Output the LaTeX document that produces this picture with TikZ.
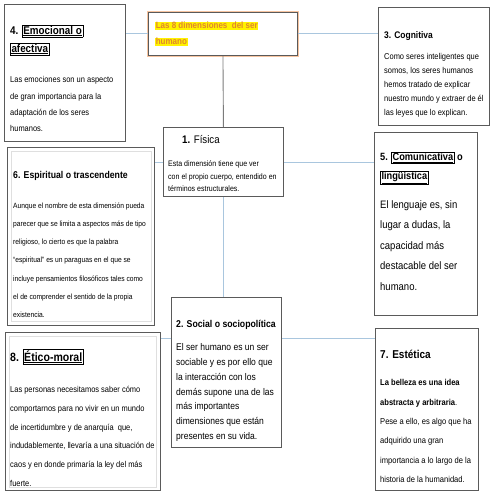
\documentclass[tikz,border=0pt]{standalone}
\usepackage{fontspec}
\setmainfont{Liberation Sans}[FakeStretch=0.88]
\usetikzlibrary{calc}
\definecolor{linkblue}{HTML}{A9C6DE}
\definecolor{framegray}{HTML}{5A5A5A}
\definecolor{titleorange}{HTML}{E0862F}
\definecolor{glow}{HTML}{F6C4A0}
\newcommand{\hl}[1]{{\setlength{\fboxsep}{0.6pt}\setlength{\fboxrule}{0.7pt}\fbox{\underline{#1}}}}
\newcommand{\hly}[1]{{\setlength{\fboxsep}{0.6pt}\colorbox{yellow}{#1}}}
\newcommand{\fs}[2]{\fontsize{#1}{#2}\selectfont}

\tikzset{
  card/.style={draw=framegray, line width=0.9pt, fill=white, anchor=north west, inner sep=0pt},
  txt/.style={anchor=north west, inner sep=0pt, align=left},
  link/.style={draw=linkblue, line width=0.9pt},
}

\begin{document}
\begin{tikzpicture}[x=1pt,y=-1pt]
\useasboundingbox[fill=white] (0,0) rectangle (495,495);
%boxes
\node[card, minimum width=121pt, minimum height=137pt] (emo) at (4,4) {};
\node[card, minimum width=149pt, minimum height=43pt, preaction={draw=glow, line width=3pt}] (title) at (148,12) {};
\node[card, minimum width=111pt, minimum height=118pt] (cog) at (378,7) {};
\node[card, minimum width=120pt, minimum height=69pt] (fis) at (163,127) {};
\node[card, minimum width=147pt, minimum height=178pt] (esp) at (7,147) {};
\node[card, minimum width=103pt, minimum height=183pt] (com) at (374,132) {};
\node[card, minimum width=110pt, minimum height=150pt] (soc) at (171,297) {};
\node[card, minimum width=155pt, minimum height=158pt] (eti) at (5,332) {};
\node[card, minimum width=103pt, minimum height=162pt] (est) at (375,328) {};
%inner frames
\draw[gray!25] (11,151) rectangle (151,321);
\draw[gray!25] (9,336) rectangle (156,487);
%connectors
\draw[link] (title.west) -- (title.west -| emo.east);
\draw[link] (title.east) -- (title.east -| cog.west);
\draw[framegray!80, line width=0.9pt] (title.south) -- (fis.north);
\draw[link] (fis.east) -- (fis.east -| com.west);
\draw[link] (fis.west) -- (fis.west -| esp.east);
\draw[link] (fis.south) -- (fis.south |- soc.north);
\draw[link] ([yshift=34pt]soc.east) -- ([yshift=34pt]soc.east -| est.west);
\draw[link] ([yshift=34pt]soc.west) -- ([yshift=34pt]soc.west -| eti.east);
%texts
\node[txt, font=\fs{9.1}{16}\bfseries, text=titleorange] (titleText) at (155,21.5)
  {\hly{Las 8 dimensiones\ \ del ser}\\\hly{humano}};
\node[txt, font=\fs{11.2}{18}\bfseries] (emoHead) at (10,24.5) {4. \hl{Emocional o}\\\hl{afectiva}};
\node[txt, font=\fs{8.5}{16.2}] (emoText) at (10,76.5)
  {Las emociones son un aspecto\\de gran importancia para la\\adaptación de los seres\\humanos.};
\node[txt, font=\fs{9.6}{14}\bfseries] (cogHead) at (384,31) {3. Cognitiva};
\node[txt, font=\fs{8.5}{14}] (cogText) at (384,53.3)
  {Como seres inteligentes que\\somos, los seres humanos\\hemos tratado de explicar\\nuestro mundo y extraer de él\\las leyes que lo explican.};
\node[txt, font=\fs{11}{14}] (fisHead) at (182,135) {\textbf{1.} Física};
\node[txt, font=\fs{8}{12.5}] (fisText) at (168,160.5)
  {Esta dimensión tiene que ver\\con el propio cuerpo, entendido en\\términos estructurales.};
\node[txt, font=\fs{9.9}{14}\bfseries] (espHead) at (13,171.5) {6. Espiritual o trascendente};
\node[txt, font=\fs{7.6}{18.2}] (espText) at (13,202.5)
  {Aunque el nombre de esta dimensión pueda\\parecer que se limita a aspectos más de tipo\\religioso, lo cierto es que la palabra\\“espiritual” es un paraguas en el que se\\incluye pensamientos filosóficos tales como\\el de comprender el sentido de la propia\\existencia.};
\node[txt, font=\fs{10.5}{19}\bfseries] (comHead) at (380,151.5) {5. \hl{Comunicativa} o\\\hl{lingüística}};
\node[txt, font=\fs{10.8}{20.5}] (comText) at (380,200)
  {El lenguaje es, sin\\lugar a dudas, la\\capacidad más\\destacable del ser\\humano.};
\node[txt, font=\fs{9.9}{14}\bfseries] (socHead) at (176,320.5) {2. Social o sociopolítica};
\node[txt, font=\fs{9.7}{14.8}] (socText) at (176,343.5)
  {El ser humano es un ser\\sociable y es por ello que\\la interacción con los\\demás supone una de las\\más importantes\\dimensiones que están\\presentes en su vida.};
\node[txt, font=\fs{12}{14}\bfseries] (etiHead) at (10,349) {8. \hl{Ético-moral}};
\node[txt, font=\fs{8.5}{18.8}] (etiText) at (10,386)
  {Las personas necesitamos saber cómo\\comportarnos para no vivir en un mundo\\de incertidumbre y de anarquía\ \ que,\\indudablemente, llevaría a una situación de\\caos y en donde primaría la ley del más\\fuerte.};
\node[txt, font=\fs{11.4}{14}\bfseries] (estHead) at (380,350) {7. Estética};
\node[txt, font=\fs{8.6}{19.3}] (estText) at (380,379.5)
  {\textbf{La belleza es una idea}\\\textbf{abstracta y arbitraria}.\\Pese a ello, es algo que ha\\adquirido una gran\\importancia a lo largo de la\\historia de la humanidad.};
\end{tikzpicture}
\end{document}
